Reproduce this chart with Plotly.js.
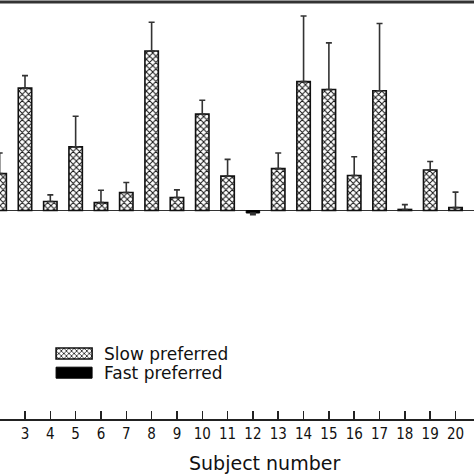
<!DOCTYPE html>
<html>
<head>
<meta charset="utf-8">
<script src="https://cdn.plot.ly/plotly-3.0.1.min.js"></script>
<style>
  html, body { margin: 0; padding: 0; background: #fff; }
  #chart { width: 474px; height: 474px; }
</style>
</head>
<body>
<div id="chart"></div>
<script>
// subjects visible in the crop
const slowSubjects = [2, 3, 4, 5, 6, 7, 8, 9, 10, 11, 13, 14, 15, 16, 17, 18, 19, 20];
const slowValues   = [17.7, 58.7, 4.3, 30.5, 3.8, 8.6, 76.5, 6.2, 46.2, 16.5, 20.1, 61.8, 58.0, 16.8, 57.4, 0.5, 19.4, 1.4];
const slowErrors   = [9.9, 6.0, 3.2, 14.7, 5.9, 4.8, 13.8, 3.7, 6.7, 8.0, 7.5, 31.5, 22.4, 9.0, 32.3, 2.3, 4.1, 7.4];

const fastSubjects = [12];
const fastValues   = [-1.2];
const fastErrors   = [0.8];

const tickSubjects = [2, 3, 4, 5, 6, 7, 8, 9, 10, 11, 12, 13, 14, 15, 16, 17, 18, 19, 20, 21];

const FONT = "DejaVu Sans, sans-serif";
const TICKFONT = "DejaVu Sans Condensed, DejaVu Sans, sans-serif";

const slow = {
    x: slowSubjects,
    y: slowValues,
    type: "bar",
    name: "Slow preferred",
    legend: "legend",
    width: 0.53,
    marker: {
        color: "#ffffff",
        line: {color: "#111", width: 1.6},
        pattern: {shape: "x", fgcolor: "#111", bgcolor: "#ffffff", size: 4.5, solidity: 0.38}
    },
    error_y: {type: "data", symmetric: false, array: slowErrors, arrayminus: slowErrors.map(() => 0),
              color: "#333", thickness: 1.6, width: 3}
};

const fast = {
    x: fastSubjects,
    y: fastValues,
    type: "bar",
    name: "Fast preferred",
    legend: "legend2",
    width: 0.53,
    marker: {color: "#000", line: {color: "#000", width: 1}},
    error_y: {type: "data", symmetric: false, array: fastErrors.map(() => 0), arrayminus: fastErrors,
              color: "#333", thickness: 1.6, width: 3}
};

const legendBase = {
    x: 0.093, xanchor: "left", yanchor: "middle", itemwidth: 50,
    font: {family: FONT, size: 17, color: "#111"},
    bgcolor: "rgba(0,0,0,0)"
};

const layout = {
    width: 474,
    height: 474,
    margin: {l: 0, r: 0, t: 2, b: 55},
    paper_bgcolor: "#fff",
    plot_bgcolor: "#fff",
    barmode: "overlay",
    showlegend: true,
    legend: Object.assign({}, legendBase, {y: 0.156}),
    legend2: Object.assign({}, legendBase, {y: 0.110}),
    xaxis: {
        range: [2.013, 20.73],
        tickvals: tickSubjects,
        ticks: "inside", ticklen: 8, tickwidth: 1.5, tickcolor: "#222",
        showline: true, linecolor: "#222", linewidth: 1.5,
        showgrid: false, zeroline: false,
        tickfont: {family: TICKFONT, size: 15, color: "#111"}
    },
    yaxis: {
        range: [-100, 100],
        showticklabels: false, showgrid: false, ticks: "",
        zeroline: true, zerolinecolor: "#333", zerolinewidth: 1.5
    },
    shapes: [
        {type: "line", xref: "paper", yref: "paper", x0: 0, x1: 1, y0: 1, y1: 1,
         line: {color: "#333", width: 3}}
    ],
    annotations: [
        {text: "Subject number", xref: "paper", yref: "paper", x: 0.557, y: -0.105,
         xanchor: "center", yanchor: "middle", showarrow: false,
         font: {family: FONT, size: 19, color: "#111"}}
    ]
};

Plotly.newPlot("chart", [slow, fast], layout, {staticPlot: true}).then(() => {
    // stretch the legend swatches into wide flat boxes like the original
    document.querySelectorAll(".legendpoints path").forEach(p => {
        p.setAttribute("d", "M18,5.5H-18V-5.5H18Z");
    });
});
</script>
</body>
</html>
